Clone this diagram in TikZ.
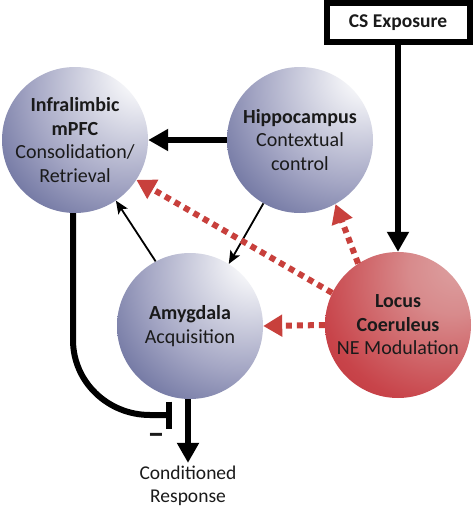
\documentclass[tikz,border=0pt]{standalone}
\usepackage{fontspec}
\setmainfont{Carlito}
\usetikzlibrary{arrows.meta}
\definecolor{ballblue}{HTML}{263070}
\definecolor{ballmid}{HTML}{A4A6C4}
\definecolor{ballred}{HTML}{B01E26}
\definecolor{redmid}{HTML}{C8444A}
\definecolor{redlight}{HTML}{DDA2A2}
\definecolor{dashred}{HTML}{C8403C}
\definecolor{txt}{HTML}{1A1A1A}
\pgfdeclareradialshading{blueball}{\pgfpoint{25bp}{25bp}}{color(0bp)=(white); color(8bp)=(white!94!ballblue); color(32bp)=(ballmid); color(58bp)=(ballblue!75!ballmid); color(78bp)=(ballblue); color(100bp)=(ballblue)}
\pgfdeclareradialshading{redball}{\pgfpoint{22bp}{22bp}}{color(0bp)=(redlight); color(15bp)=(redlight!75!redmid); color(40bp)=(redmid); color(70bp)=(ballred); color(100bp)=(ballred)}
\tikzset{
  region/.style={circle, minimum size=146pt, inner sep=0pt, align=center, text=txt,
    font=\fontsize{20}{23.5}\selectfont},
  bluereg/.style={region, shading=blueball},
  redreg/.style={region, shading=redball},
  thickarrow/.style={line width=5.5pt, -{Triangle[width=21pt,length=20pt]}},
  thinarrow/.style={line width=1.8pt, -{Stealth[width=11pt,length=13pt,inset=3pt]}},
  redarrow/.style={line width=6pt, dashred, dash pattern=on 6pt off 5pt,
    -{Triangle[width=21pt,length=19pt]}},
  inhib/.style={line width=6pt, -{Bar[width=27pt,line width=6pt]}},
}
\begin{document}
\begin{tikzpicture}[x=1pt,y=-1pt]
\fill[white] (0,0) rectangle (474,507);
\useasboundingbox (0,0) rectangle (474,507);

\node[bluereg] (pfc) at (75,140) {\textbf{Infralimbic}\\\textbf{mPFC}\\Consolidation/\\Retrieval};
\node[bluereg] (hip) at (300,140) {\textbf{Hippocampus}\\Contextual\\control};
\node[bluereg] (amy) at (190,326) {\textbf{Amygdala}\\Acquisition};
\node[redreg] (lc) at (398,325) {\textbf{Locus}\\\textbf{Coeruleus}\\NE Modulation};

\node[draw, line width=6pt, minimum width=143pt, minimum height=39pt, inner sep=0pt,
  font=\fontsize{19.5}{20}\selectfont\bfseries, text=txt] (cs) at (398,22.5) {CS Exposure};

\node[font=\fontsize{19.5}{22.5}\selectfont, align=center, text=txt] (cr) at (188,486) {Conditioned\\Response};
\node[font=\fontsize{34}{34}\selectfont\bfseries, text=txt] (minus) at (156,439) {–};

\draw[thickarrow] (cs.south) -- (lc.north);
\draw[thickarrow] (hip.west) -- (pfc.east);
\draw[thickarrow] (amy.south -| cr.north) -- (cr.north);
\draw[thinarrow] (hip.240) -- (amy.58);
\draw[thinarrow] (amy.118) -- (pfc.304);
\draw[redarrow] (lc.154) -- (pfc.327);
\draw[redarrow] (lc.123) -- (hip.299);
\draw[redarrow] (lc.west) -- (amy.east);

\coordinate (inh) at (172,415);
\draw[inhib] (pfc.south -| 73,0) -- (73,340) .. controls (73,382) and (108,415) .. (150,415) -- (inh);
\end{tikzpicture}
\end{document}
